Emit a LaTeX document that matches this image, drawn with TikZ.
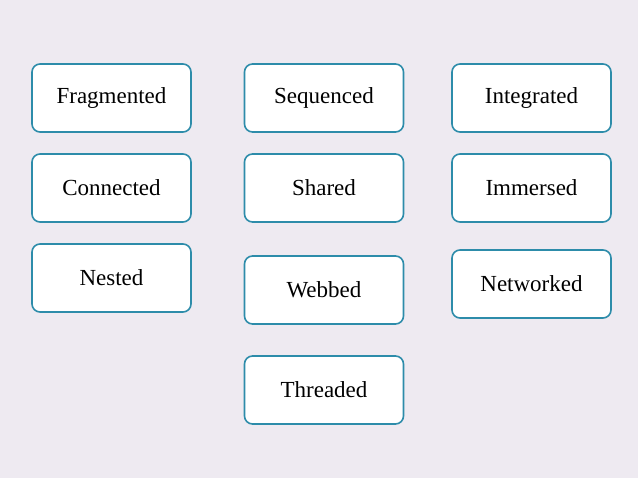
\documentclass[tikz,border=0pt]{standalone}
\usepackage{fontspec}
\setmainfont{Liberation Serif}
\definecolor{bg}{RGB}{238,234,241}
\definecolor{edge}{RGB}{45,140,170}
\begin{document}
\begin{tikzpicture}[x=1pt,y=-1pt,
  item/.style={draw=edge,line width=1.6pt,fill=white,rounded corners=8pt,
    minimum width=159pt,minimum height=68pt,font=\fontsize{23}{27}\selectfont}]
\fill[bg] (0,0) rectangle (638,478);
\useasboundingbox (0,0) rectangle (638,478);
\node[item] (frag) at (111.5,98) {Fragmented};
\node[item] (seq) at (324,98) {Sequenced};
\node[item] (int) at (531.5,98) {Integrated};
\node[item] (con) at (111.5,188) {Connected};
\node[item] (sha) at (324,188) {Shared};
\node[item] (imm) at (531.5,188) {Immersed};
\node[item] (nes) at (111.5,278) {Nested};
\node[item] (web) at (324,290) {Webbed};
\node[item] (net) at (531.5,284) {Networked};
\node[item] (thr) at (324,390) {Threaded};
\end{tikzpicture}
\end{document}
